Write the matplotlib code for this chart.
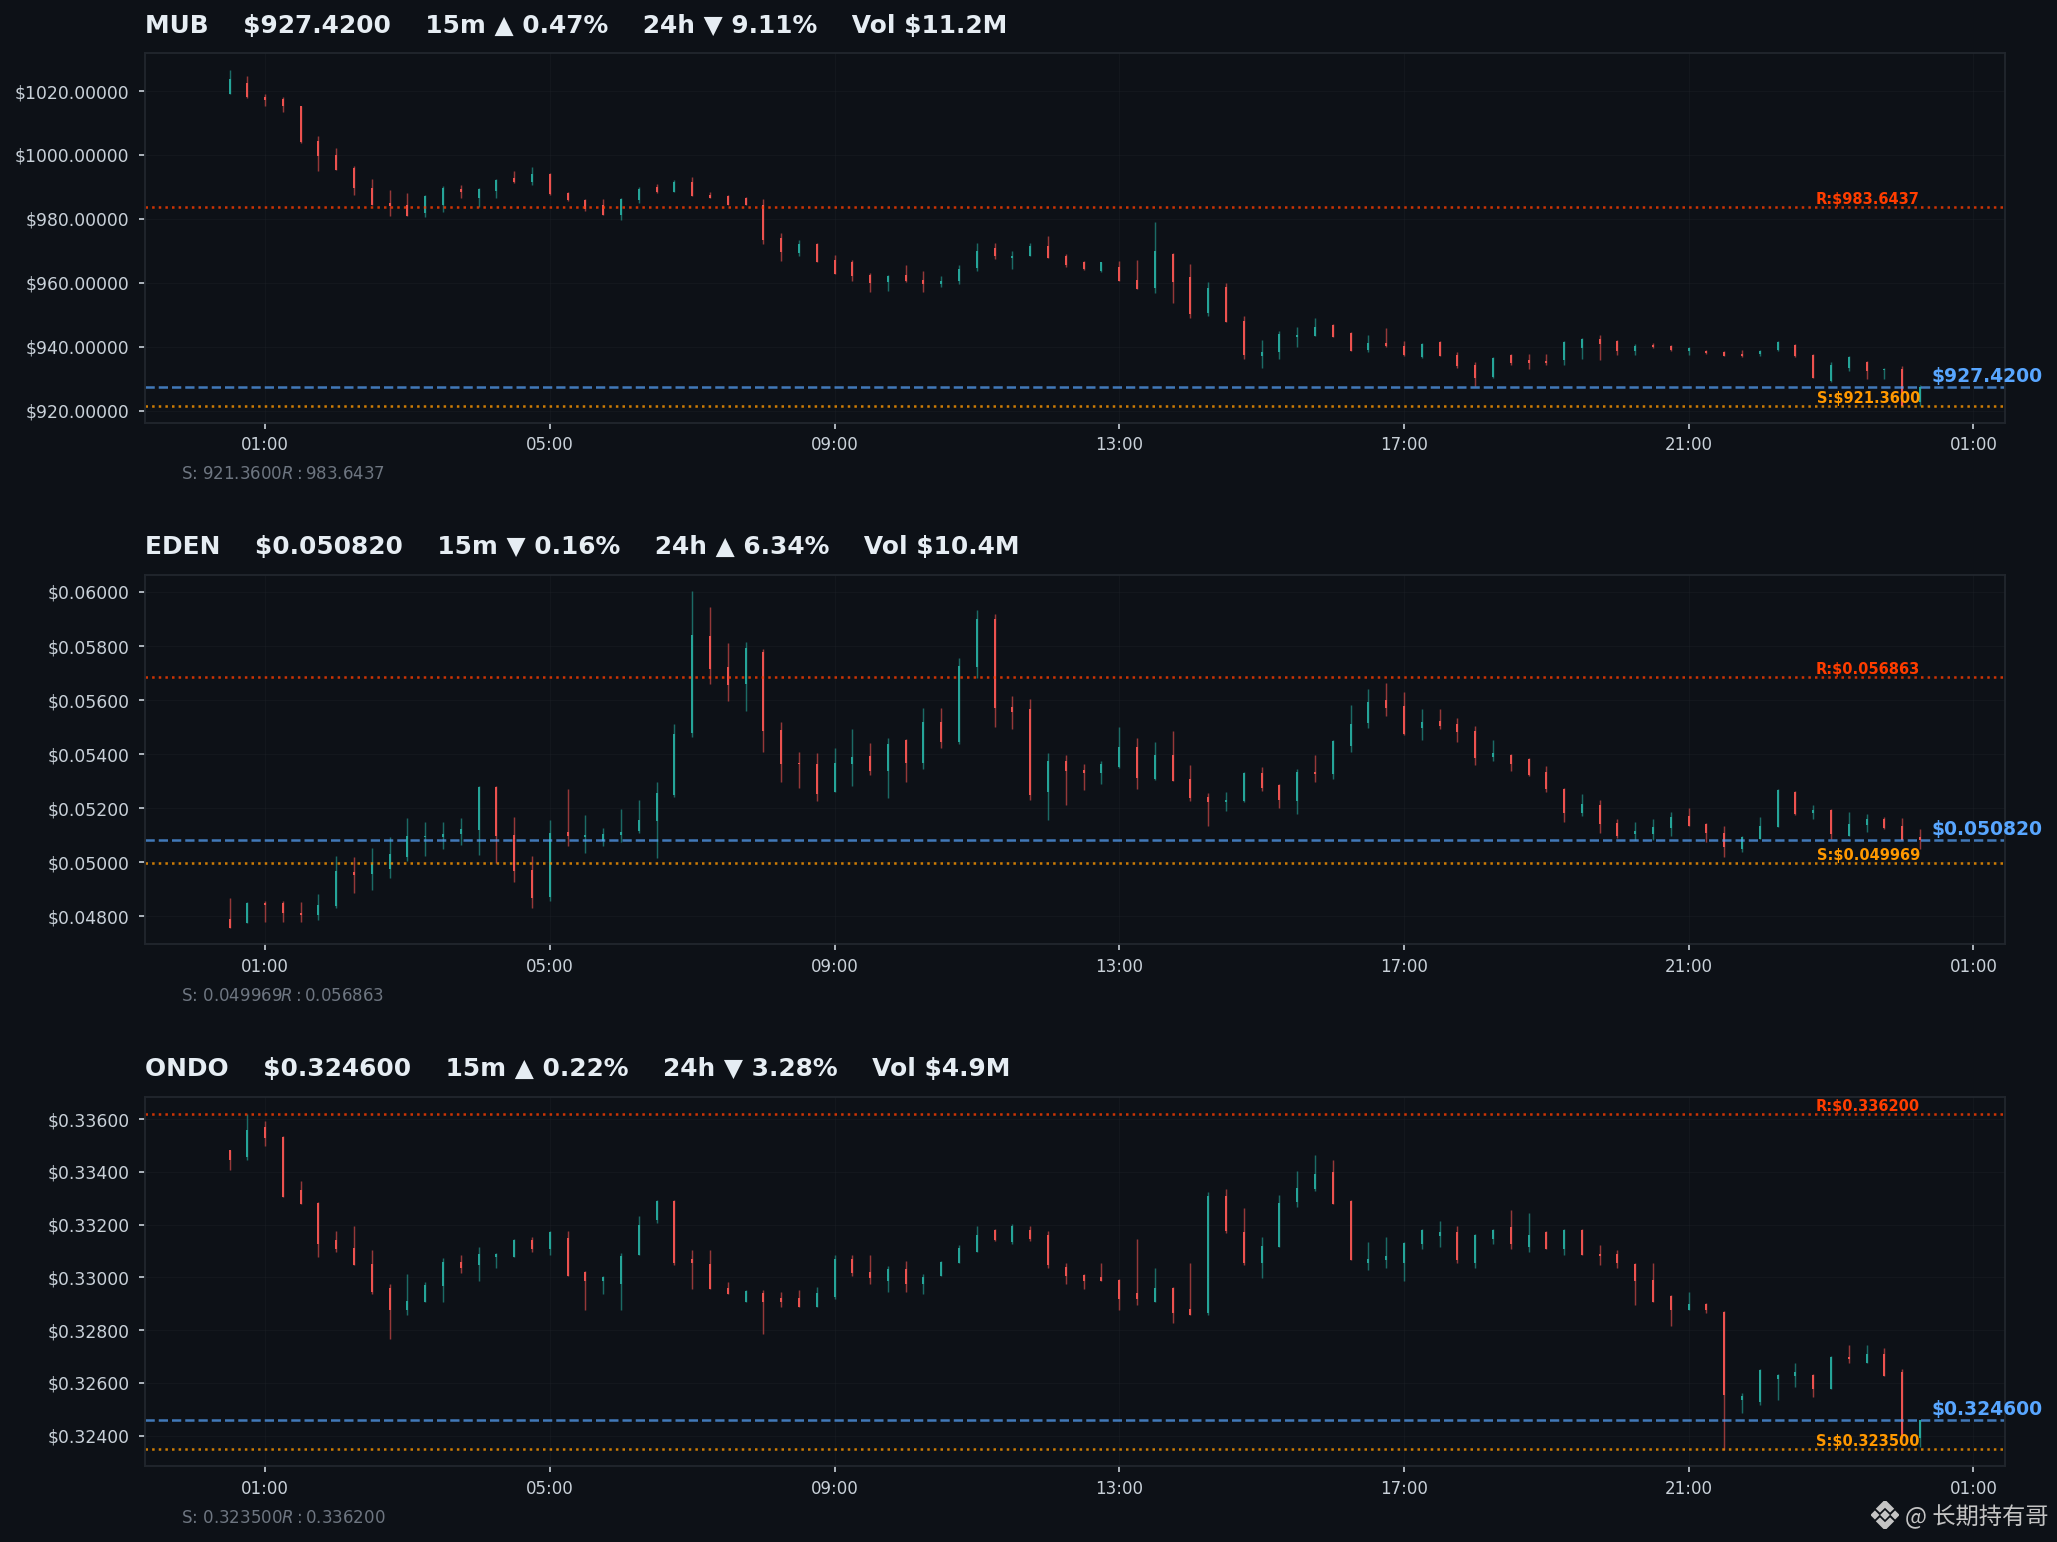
import matplotlib
matplotlib.use('Agg')
import matplotlib.pyplot as plt
import matplotlib.dates as mdates
from matplotlib.patches import Polygon
import numpy as np
import pandas as pd

# 15m candles, 00:30 to 00:15 next day
times = pd.date_range('2025-01-01 00:30', periods=96, freq='15min')

mub_open = [1019.1,1022.5,1018.1,1017.6,1015.2,1004.4,1000.0,996.0,989.7,985.0,984.3,981.8,984.3,989.3,986.5,988.7,992.8,991.5,994.0,988.1,985.9,984.3,981.2,985.9,990.0,988.4,991.5,
            987.5,987.2,986.5,984.3,974.0,969.3,972.1,967.1,966.5,962.5,960.3,962.5,960.9,959.6,960.6,964.6,970.9,967.8,968.4,971.5,968.4,966.5,963.7,964.9,960.9,958.4,969.0,961.8,950.6,958.7,948.0,937.1,938.3,943.0,943.4,946.8,944.3,939.0,941.2,
            940.2,936.8,941.5,937.4,934.3,930.5,937.4,935.9,935.5,935.9,939.6,942.4,941.8,938.6,940.5,940.2,938.6,938.6,938.3,937.7,937.7,939.0,940.5,937.4,929.3,933.4,935.2,932.7,933.0,922.8]
mub_high = [1026.6,1024.7,1019.1,1018.1,1015.2,1005.9,1002.2,996.5,992.5,989.0,988.1,987.5,990.3,990.6,989.7,992.5,995.0,996.2,994.4,988.4,986.2,986.2,986.5,990.0,990.9,992.2,993.1,
            988.4,987.5,986.8,986.2,975.6,973.4,972.4,968.7,967.1,963.1,962.5,965.6,963.7,962.1,965.6,972.4,972.4,969.9,972.4,974.6,969.0,966.8,966.5,966.8,967.1,979.0,969.3,965.9,960.3,960.0,949.6,942.1,944.9,946.2,949.0,947.1,944.6,943.7,945.9,
            941.8,941.2,941.8,938.3,935.2,936.8,937.7,937.7,937.7,941.8,942.7,943.7,942.1,940.9,941.2,940.5,939.9,939.0,938.6,939.0,939.0,941.8,940.9,937.7,935.2,937.1,935.5,933.4,934.0,928.0]
mub_low = [1019.1,1017.9,1015.4,1013.5,1003.8,995.0,995.3,987.5,984.3,980.9,980.9,980.6,982.1,986.5,983.7,986.5,991.2,990.6,987.5,985.6,982.5,981.2,979.6,985.0,988.1,988.4,987.2,
           986.5,984.3,984.3,972.1,966.8,968.4,966.5,962.8,960.6,957.1,957.4,960.3,957.1,958.7,959.6,963.7,967.4,964.3,968.4,967.8,964.9,964.0,963.4,960.6,958.1,956.8,953.7,949.0,949.6,947.7,936.2,933.4,936.2,939.9,943.4,943.0,938.6,938.3,939.9,
           937.1,936.5,937.1,933.4,927.7,930.2,934.3,933.0,934.3,934.3,936.2,935.9,937.4,937.4,939.6,938.6,937.4,937.7,937.1,936.8,937.1,938.6,936.8,930.2,929.0,932.4,929.9,929.9,921.5,921.5]
mub_close = [1023.8,1018.1,1017.2,1015.3,1004.1,999.7,995.3,989.7,984.3,984.0,980.9,987.2,989.7,988.4,989.3,992.2,991.5,994.0,987.8,985.9,983.1,981.2,986.2,989.3,988.4,991.5,987.2,
             986.5,984.3,984.3,973.4,969.6,972.1,966.5,962.8,962.1,960.0,962.1,960.6,959.6,960.6,964.3,969.9,968.4,968.4,971.5,967.8,965.6,964.3,966.5,960.6,958.1,969.9,960.3,950.2,958.4,947.7,937.4,938.3,944.0,943.7,946.2,943.0,938.6,941.2,940.2,
             937.4,940.9,937.1,934.0,930.2,936.5,934.9,934.9,934.9,941.5,942.4,940.9,938.6,940.2,939.9,939.0,939.6,938.0,937.1,937.1,938.6,941.5,937.1,930.2,934.3,936.8,932.4,933.0,921.5,927.4]

# EDEN and ONDO are kept in units of 0.00001
eden_open = [4789,4774,4848,4848,4811,4804,4837,4963,4956,4974,5019,5093,5093,5104,5119,5278,5100,4970,4870,5111,5093,5078,5100,5115,5152,5248,5478,
             5837,5722,5659,5778,5489,5367,5363,5259,5363,5393,5337,5452,5367,5519,5444,5722,5900,5574,5567,5259,5374,5341,5330,5352,5426,5307,5396,5307,5241,5222,5226,5330,5285,5226,5333,5326,5430,5515,5600,
             5578,5496,5522,5511,5485,5389,5396,5381,5333,5270,5181,5211,5144,5104,5104,5126,5170,5141,5107,5048,5085,5130,5259,5181,5193,5096,5137,5159,5133,5093]
eden_high = [4867,4852,4856,4856,4852,4882,5022,5019,5052,5093,5163,5148,5148,5163,5281,5281,5167,5022,5156,5270,5174,5126,5196,5230,5296,5511,6004,
             5944,5811,5815,5789,5519,5407,5404,5422,5493,5441,5459,5456,5570,5570,5756,5933,5919,5615,5604,5404,5396,5363,5374,5500,5459,5444,5485,5359,5256,5259,5333,5352,5289,5344,5396,5452,5581,5641,5663,
             5630,5567,5567,5533,5504,5452,5400,5385,5356,5274,5252,5230,5159,5148,5159,5185,5200,5144,5133,5096,5167,5270,5263,5211,5196,5185,5178,5167,5163,5122]
eden_low = [4756,4774,4778,4778,4778,4785,4830,4885,4896,4941,5004,5022,5048,5063,5026,4996,4926,4830,4856,5059,5033,5059,5074,5107,5015,5241,5463,
            5659,5596,5559,5407,5296,5274,5226,5259,5281,5322,5237,5296,5344,5422,5437,5681,5500,5493,5230,5156,5211,5267,5289,5348,5270,5304,5300,5226,5133,5189,5222,5263,5200,5178,5296,5307,5407,5496,5541,
            5470,5452,5493,5444,5359,5374,5337,5319,5259,5148,5170,5107,5089,5081,5081,5096,5133,5074,5019,5037,5085,5130,5174,5159,5085,5096,5111,5122,5081,5048]
eden_close = [4756,4848,4841,4811,4804,4841,4967,4952,4993,5030,5096,5096,5104,5122,5278,5096,4967,4867,5107,5096,5100,5104,5111,5156,5256,5474,5841,
              5715,5656,5793,5485,5363,5363,5252,5367,5389,5337,5437,5367,5519,5444,5726,5900,5570,5556,5248,5374,5337,5330,5363,5426,5311,5396,5300,5237,5222,5230,5330,5274,5230,5333,5326,5448,5511,5593,5570,
              5474,5519,5504,5481,5385,5404,5363,5322,5270,5181,5215,5141,5096,5115,5130,5167,5133,5107,5056,5093,5133,5267,5178,5193,5104,5141,5159,5126,5081,5082]

ondo_open = [33483,33456,33570,33532,33331,33282,33142,33112,33051,32960,32877,32907,32968,33059,33047,33078,33078,33142,33108,33150,33021,32987,32975,33085,33218,33290,33070,
             33051,32960,32907,32941,32922,32922,32888,32926,33070,33021,32987,33032,32975,33006,33055,33097,33180,33134,33180,33161,33040,33010,33002,32991,32941,32907,32960,32881,32866,33309,33172,33055,33116,33286,33335,33399,33290,33055,33066,
             33055,33127,33157,33172,33055,33146,33191,33116,33172,33108,33180,33089,33089,33051,32991,32930,32877,32900,32869,32536,32529,32616,32627,32631,32578,32699,32676,32710,32642,32392]
ondo_high = [33483,33619,33592,33536,33365,33286,33176,33195,33104,32975,33013,32983,33074,33085,33116,33093,33146,33153,33176,33176,33025,33006,33093,33233,33293,33293,33104,
             33104,32983,32953,32953,32945,32953,32964,33085,33085,33085,33044,33062,33013,33062,33123,33195,33184,33203,33195,33176,33055,33013,33055,32994,33146,33036,32964,33055,33324,33335,33263,33153,33312,33403,33464,33445,33293,33134,33153,
             33134,33184,33214,33195,33165,33184,33256,33244,33176,33184,33184,33123,33104,33055,33055,32934,32945,32904,32873,32563,32654,32635,32676,32635,32703,32745,32745,32733,32654,32460]
ondo_low = [33407,33445,33498,33305,33278,33078,33097,33047,32938,32767,32858,32907,32907,33017,32987,33036,33078,33097,33085,33006,32877,32938,32877,33085,33206,33047,32957,
            32957,32938,32907,32786,32888,32888,32888,32919,33006,32975,32945,32945,32938,33006,33055,33097,33138,33127,33138,33036,32975,32957,32987,32877,32896,32907,32828,32858,32858,33169,33047,32998,33116,33267,33327,33278,33066,33028,33036,
            32987,33108,33116,33055,33036,33127,33108,33097,33108,33085,33085,33047,33036,32896,32907,32816,32877,32866,32347,32487,32517,32536,32586,32548,32578,32676,32676,32627,32389,32358]
ondo_close = [33445,33558,33528,33305,33278,33127,33108,33047,32945,32877,32911,32972,33059,33036,33089,33089,33142,33108,33172,33006,32987,33002,33081,33199,33290,33055,33055,
              32957,32938,32949,32907,32907,32888,32941,33070,33017,32998,33032,32975,33002,33059,33112,33161,33142,33195,33146,33047,33006,32987,32987,32919,32919,32960,32866,32858,33309,33176,33055,33119,33282,33339,33392,33278,33066,33070,33081,
              33131,33180,33172,33066,33161,33180,33127,33161,33108,33180,33085,33081,33055,32987,32907,32877,32900,32877,32555,32551,32650,32631,32642,32578,32699,32692,32710,32627,32392,32460]

symbols = ['MUB', 'EDEN', 'ONDO']
prices = [927.42, 0.05082, 0.3246]
supports = [921.36, 0.049969, 0.3235]
resistances = [983.6437, 0.056863, 0.3362]
price_fmt = ['.4f', '.6f', '.6f']
change_15m = ['▲ 0.47%', '▼ 0.16%', '▲ 0.22%']
change_24h = ['▼ 9.11%', '▲ 6.34%', '▼ 3.28%']
volumes = ['$11.2M', '$10.4M', '$4.9M']
yticks = [[920, 940, 960, 980, 1000, 1020],
          [0.048, 0.050, 0.052, 0.054, 0.056, 0.058, 0.060],
          [0.324, 0.326, 0.328, 0.330, 0.332, 0.334, 0.336]]
ylims = [(916.2, 1031.8), (0.04697, 0.06064), (0.32285, 0.336846)]
candles = [(mub_open, mub_high, mub_low, mub_close),
           (np.array(eden_open) / 1e5, np.array(eden_high) / 1e5, np.array(eden_low) / 1e5, np.array(eden_close) / 1e5),
           (np.array(ondo_open) / 1e5, np.array(ondo_high) / 1e5, np.array(ondo_low) / 1e5, np.array(ondo_close) / 1e5)]

BG = '#0d1117'
UP = '#26a69a'
DOWN = '#ef5350'
W, H = 2057, 1542

fig = plt.figure(figsize=(W / 150, H / 150), dpi=150, facecolor=BG)
tops = [53.3, 574.7, 1096.7]

for i, sym in enumerate(symbols):
    ax = fig.add_axes([145 / W, 1 - (tops[i] + 369.4) / H, 1859.5 / W, 369.4 / H], facecolor=BG)
    o, h, l, c = [np.asarray(a, dtype=float) for a in candles[i]]
    colors = [UP if cc >= oo else DOWN for oo, cc in zip(o, c)]
    ax.vlines(times, l, h, colors=colors, linewidth=0.7, alpha=0.6)
    ax.vlines(times, np.minimum(o, c), np.maximum(o, c), colors=colors, linewidth=0.95)

    s, r, p = supports[i], resistances[i], prices[i]
    fmt = price_fmt[i]
    ax.axhline(r, color='#ff3d00', linestyle=':', linewidth=1.2, alpha=0.8)
    ax.axhline(s, color='#ff9800', linestyle=':', linewidth=1.2, alpha=0.8)
    ax.axhline(p, color='#58a6ff', linestyle='--', linewidth=1.2, alpha=0.7)
    ax.text(times[-1], r, f'R:${r:{fmt}}', color='#ff3d00', fontsize=7, fontweight='bold', ha='right', va='bottom')
    ax.text(times[-1], s, f'S:${s:{fmt}}', color='#ff9800', fontsize=7, fontweight='bold', ha='right', va='bottom')
    ax.annotate(f'${p:{fmt}}', (times[-1], p), xytext=(5.5, 0.5), textcoords='offset points', color='#58a6ff',
                fontsize=9, fontweight='bold', ha='left', va='bottom', annotation_clip=False)

    title = f'{sym}    \\${p:{fmt}}    15m {change_15m[i]}    24h {change_24h[i]}    Vol \\{volumes[i]}'
    ax.set_title(title, loc='left', color='#e6edf3', fontsize=11.95, fontweight='bold', pad=9.8)
    # unescaped dollars, so this line goes through mathtext like the original
    ax.text(0.0195, -0.14, f'S: ${s:{fmt}}  R: ${r:{fmt}}', transform=ax.transAxes, color='#6e7681', fontsize=8,
            ha='left', va='center')

    ax.set_ylim(*ylims[i])
    ax.set_yticks(yticks[i])
    ax.yaxis.set_major_formatter(lambda v, pos: f'${v:.5f}')
    ax.xaxis.set_major_locator(mdates.HourLocator(byhour=[1, 5, 9, 13, 17, 21]))
    ax.xaxis.set_major_formatter(mdates.DateFormatter('%H:%M'))
    ax.tick_params(axis='x', colors='#c9d1d9', labelsize=8, length=3, width=0.8)
    ax.tick_params(axis='y', colors='#c9d1d9', labelsize=8.3, length=3, width=0.8, pad=4.5)
    ax.grid(True, color='#21262d', linewidth=0.5, alpha=0.3)
    ax.set_axisbelow(True)
    for sp in ax.spines.values():
        sp.set_color('#21262d')
        sp.set_linewidth(0.9)

# watermark
fig.text(1905 / W, 1 - 1517 / H, '@ 长期持有哥', color='#c4c4c4', fontsize=11.2, ha='left', va='center',
         family=['Noto Sans CJK SC', 'DejaVu Sans'])
logo = fig.add_axes([1871 / W, 1 - 1529 / H, 28 / W, 28 / H])
logo.set_xlim(-1, 1)
logo.set_ylim(-1, 1)
logo.axis('off')
diamonds = [(0, 0, .24), (-.72, 0, .22), (.72, 0, .22)]
for cx, cy, rad in diamonds:
    logo.add_patch(Polygon([(cx - rad, cy), (cx, cy + rad), (cx + rad, cy), (cx, cy - rad)], color='#c4c4c4'))
for sgn in (1, -1):
    logo.add_patch(Polygon([(0, sgn), (.55, sgn * .45), (.36, sgn * .27), (0, sgn * .62), (-.36, sgn * .27), (-.55, sgn * .45)],
                           color='#c4c4c4'))

fig.savefig('out.png', dpi=150, facecolor=BG)
plt.close('all')
